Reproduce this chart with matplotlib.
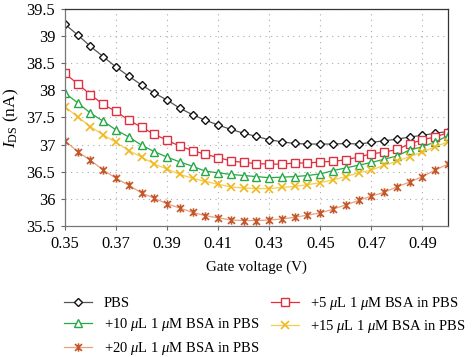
import numpy as np
import matplotlib
matplotlib.use("Agg")
import matplotlib.pyplot as plt
from matplotlib.path import Path

gate_voltage = [0.35, 0.355, 0.36, 0.365, 0.37, 0.375, 0.38, 0.385, 0.39, 0.395,
                0.40, 0.405, 0.41, 0.415, 0.42, 0.425, 0.43, 0.435, 0.44, 0.445,
                0.45, 0.455, 0.46, 0.465, 0.47, 0.475, 0.48, 0.485, 0.49, 0.495, 0.50]

pbs = [39.22, 39.02, 38.81, 38.62, 38.43, 38.26, 38.10, 37.95, 37.82, 37.67,
       37.55, 37.45, 37.36, 37.28, 37.21, 37.15, 37.09, 37.05, 37.02, 37.01,
       37.01, 37.01, 37.02, 37.01, 37.04, 37.07, 37.10, 37.14, 37.17, 37.21, 37.24]
bsa5 = [38.31, 38.12, 37.92, 37.74, 37.61, 37.45, 37.32, 37.19, 37.08, 36.97,
        36.89, 36.82, 36.76, 36.70, 36.67, 36.65, 36.64, 36.64, 36.66, 36.66,
        36.68, 36.69, 36.72, 36.77, 36.83, 36.86, 36.91, 37.01, 37.09, 37.14, 37.22]
bsa10 = [37.95, 37.77, 37.58, 37.43, 37.27, 37.14, 36.99, 36.87, 36.77, 36.68,
         36.60, 36.51, 36.48, 36.45, 36.43, 36.41, 36.39, 36.40, 36.41, 36.43,
         36.46, 36.52, 36.57, 36.62, 36.67, 36.73, 36.79, 36.90, 36.96, 37.05, 37.16]
bsa15 = [37.70, 37.51, 37.33, 37.18, 37.04, 36.89, 36.77, 36.64, 36.55, 36.45,
         36.38, 36.32, 36.27, 36.22, 36.20, 36.19, 36.19, 36.21, 36.23, 36.26,
         36.30, 36.35, 36.41, 36.48, 36.53, 36.62, 36.69, 36.78, 36.86, 36.96, 37.05]
bsa20 = [37.07, 36.87, 36.71, 36.53, 36.38, 36.25, 36.11, 36.01, 35.91, 35.83,
         35.75, 35.69, 35.65, 35.61, 35.60, 35.60, 35.61, 35.63, 35.66, 35.70,
         35.74, 35.81, 35.89, 35.97, 36.05, 36.12, 36.22, 36.31, 36.41, 36.53, 36.64]

labels = ["PBS", "+5 $\\mu$L 1 $\\mu$M BSA in PBS", "+10 $\\mu$L 1 $\\mu$M BSA in PBS",
          "+15 $\\mu$L 1 $\\mu$M BSA in PBS", "+20 $\\mu$L 1 $\\mu$M BSA in PBS"]
x_ticks = [0.35, 0.37, 0.39, 0.41, 0.43, 0.45, 0.47, 0.49]
y_ticks = [35.5, 36, 36.5, 37, 37.5, 38, 38.5, 39, 39.5]

plt.rcParams['font.family'] = ['Liberation Serif', 'DejaVu Serif']
plt.rcParams['mathtext.fontset'] = 'custom'
plt.rcParams['mathtext.rm'] = 'Liberation Serif'
plt.rcParams['mathtext.it'] = 'Liberation Serif:italic'

star = Path([(-1, -1), (1, 1), (-1, 1), (1, -1), (0, -1.2), (0, 1.2)],
            [Path.MOVETO, Path.LINETO, Path.MOVETO, Path.LINETO, Path.MOVETO, Path.LINETO])

fig = plt.figure(figsize=(4.74, 3.57), dpi=100)
ax = fig.add_axes([0.137, 0.367, 0.808, 0.608])

h_pbs, = ax.plot(gate_voltage, pbs, color='#555555', lw=0.9, marker='D', ms=4.3,
                 mfc='white', mec='#111111', mew=1.0)
h5, = ax.plot(gate_voltage, bsa5, color='#e03040', lw=0.9, marker='s', ms=6,
              mfc='white', mec='#e03040', mew=1.0)
h10, = ax.plot(gate_voltage, bsa10, color='#25a845', lw=0.9, marker='^', ms=6,
               mfc='white', mec='#25a845', mew=1.0)
h15, = ax.plot(gate_voltage, bsa15, color='#f3cf50', lw=0.9, marker='x', ms=6,
               mec='#f0b820', mew=1.2)
h20, = ax.plot(gate_voltage, bsa20, color='#e9a07c', lw=0.9, marker=star, ms=6,
               mec='#c4582a', mew=1.2)

ax.set_xlim(0.35, 0.50)
ax.set_ylim(35.5, 39.5)
ax.set_xticks(x_ticks)
ax.set_xticklabels([f"{t:.2f}" for t in x_ticks])
ax.set_yticks(y_ticks)
ax.set_yticklabels([f"{t:g}" for t in y_ticks])
ax.grid(True, color='#aaaaaa', linestyle=(0, (1, 4)), lw=0.8)
ax.tick_params(axis='both', labelsize=11.8, length=3, width=0.8, color='#666666', pad=4)
for s in ['top', 'right']:
    ax.spines[s].set_color('#333333')
for s in ['left', 'bottom']:
    ax.spines[s].set_color('#777777')
for s in ax.spines.values():
    s.set_linewidth(0.9)

ax.set_xlabel("Gate voltage (V)", fontsize=10.8, labelpad=6)
ax.set_ylabel("$I_{\\mathrm{DS}}$ (nA)", fontsize=12.5, labelpad=4)

handles = [h_pbs, h10, h20, h5, h15]
hl = [labels[0], labels[2], labels[4], labels[1], labels[3]]
fig.legend(handles, hl, loc='upper left', bbox_to_anchor=(0.12, 0.195), ncol=2,
           frameon=False, fontsize=10.5, handlelength=1.9, handletextpad=0.8,
           columnspacing=0.8, labelspacing=0.45, borderpad=0)

fig.savefig("out.png", dpi=100)
